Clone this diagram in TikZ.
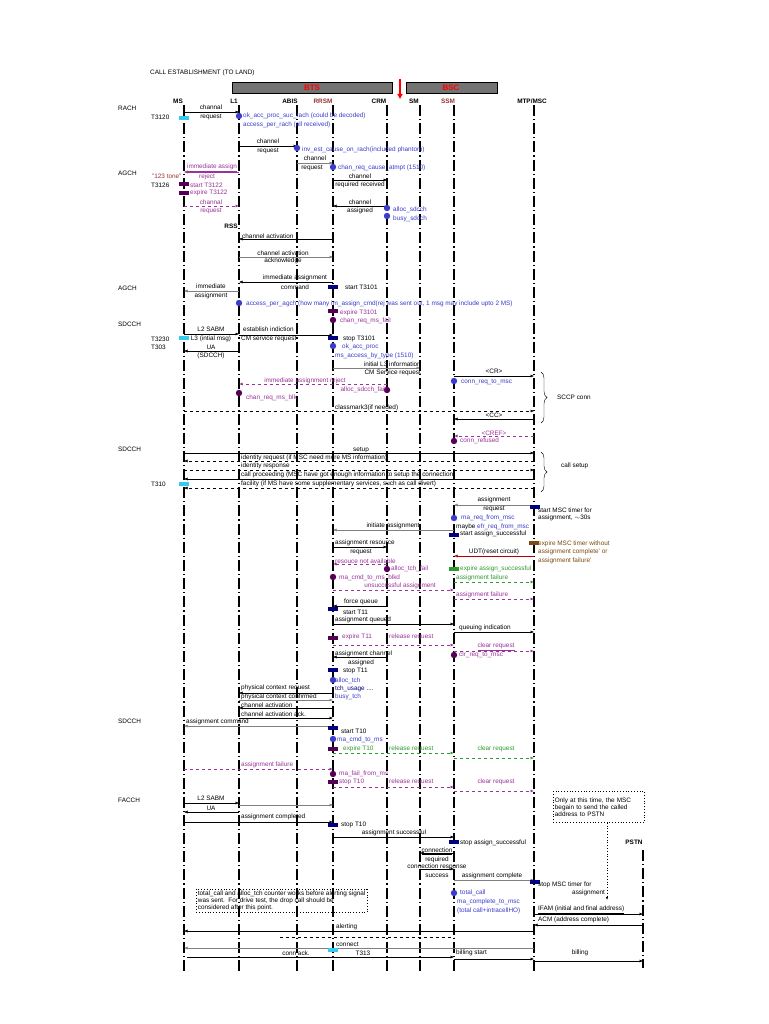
\documentclass[tikz,border=0pt]{standalone}
\usepackage{fontspec}
\setmainfont{Liberation Sans}
\usetikzlibrary{decorations.pathreplacing,arrows.meta}
\definecolor{cb}{HTML}{3B3BCC}
\definecolor{cp}{HTML}{993399}
\definecolor{cdr}{HTML}{993333}
\definecolor{cg}{HTML}{2E9B2E}
\definecolor{cbr}{HTML}{7A4A10}
\definecolor{cdb}{HTML}{000080}
\definecolor{cdp}{HTML}{550055}
\definecolor{ccy}{HTML}{33CCEE}
\tikzset{
 life/.style={line width=1.3pt,dash pattern=on 11pt off 3pt on 1.2pt off 3pt},
 msg/.style={-{Latex[length=3.5pt,width=3pt]},line width=0.5pt},
 gmsg/.style={msg,draw=gray},
 dmsg/.style={msg,dashed},
 pmsg/.style={msg,dashed,draw=cp,line width=0.7pt},
 grm/.style={msg,dashed,draw=cg,line width=0.7pt},
 lbl/.style={font=\fontsize{6.4}{7}\selectfont,inner sep=0pt,anchor=west},
 clbl/.style={lbl,anchor=center},
 hdr/.style={font=\fontsize{6.4}{7}\selectfont\bfseries,inner sep=0pt},
 note/.style={draw,dotted,line width=0.8pt}
}
\newcommand\ar[4][msg]{\draw[#1] (#2,#4) -- (#3,#4);}
\newcommand\tx[4][]{\node[lbl,#1] at (#2,#3) {#4};}
\newcommand\cx[4][]{\node[clbl,#1] at (#2,#3) {#4};}
\newcommand\dt[3][cb]{\fill[#1] (#2,#3) circle (3.2);}
\newcommand\tm[3][cdb]{\fill[#1] (#2-5,#3-2) rectangle (#2+5,#3+2);}
\begin{document}
\begin{tikzpicture}[x=1pt,y=-1pt]
\useasboundingbox[fill=white] (0,0) rectangle (768,1024);
% lifelines
\foreach \x in {184,239,297,333,387,420,454,534}{\draw[life] (\x,105) -- (\x,973);}
\draw[life] (643,850) -- (643,968);
% header
\tx{150}{73}{CALL ESTABLISHMENT (TO LAND)}
\draw[fill=gray!90!black] (232,82) rectangle (392,93);
\draw[fill=gray!90!black] (406,82) rectangle (497,93);
\node[font=\fontsize{8}{9}\selectfont\bfseries,text=red] at (312,87.5) {BTS};
\node[font=\fontsize{8}{9}\selectfont\bfseries,text=red] at (451,87.5) {BSC};
\draw[red,line width=1.5pt,-{Triangle[length=5pt,width=5pt]}] (400,79) -- (400,99);
\node[hdr] at (178,101) {MS};
\node[hdr] at (234,101) {L1};
\node[hdr] at (290,101) {ABIS};
\node[hdr,text=cdr] at (323,101) {RRSM};
\node[hdr] at (379,101) {CRM};
\node[hdr] at (414,101) {SM};
\node[hdr,text=cdr] at (448,101) {SSM};
\node[hdr] at (532,101) {MTP/MSC};
\node[hdr] at (634,842) {PSTN};
% left labels
\tx{118}{108}{RACH}\tx{151}{117}{T3120}
\tx{118}{173}{AGCH}\tx[text=cdr]{152}{176}{"123 tone"}\tx{151}{185}{T3126}
\tx{118}{288}{AGCH}\tx{118}{324}{SDCCH}\tx{151}{339}{T3230}\tx{151}{347}{T303}
\tx{118}{449}{SDCCH}\tx{151}{484}{T310}\tx{118}{721}{SDCCH}\tx{118}{800}{FACCH}
% RACH
\ar{184}{239}{112}\cx{211}{107}{channal}\cx{211}{117}{request}
\fill[ccy] (179,116) rectangle (189,120);
\dt{239}{116}\tx[text=cb]{243}{116}{ok\_acc\_proc\_suc\_rach (could be decoded)}
\tx[text=cb]{243}{125}{access\_per\_rach (all received)}
\ar{239}{297}{146}\cx{268}{141}{channel}\cx{268}{151}{request}
\dt{297}{148}\tx[text=cb]{302}{150}{inv\_est\_cause\_on\_rach(included phantom)}
\ar[gmsg]{297}{333}{163}\cx{315}{158}{channel}\cx{312}{168}{request}
\dt{333}{167}\tx[text=cb]{338}{168}{chan\_req\_cause\_atmpt (1510)}
% AGCH reject
\ar[msg,draw=cp]{239}{184}{172}\cx[text=cp]{212}{168}{\underline{immediate assign}}\cx[text=cp]{207}{177}{reject}
\ar{333}{387}{180}\cx{360}{176}{channel}\cx{360}{185}{required received}
\tm[cdp]{184}{184}\tx[text=cp]{190}{185}{start T3122}
\tm[cdp]{184}{193}\tx[text=cp]{190}{193}{expire T3122}
\ar[pmsg]{184}{239}{206}\cx[text=cp]{211}{202}{channal}\cx[text=cp]{211}{211}{request}
\ar{387}{333}{206}\cx{360}{202}{channel}\cx{360}{211}{assigned}
\dt{387}{208}\tx[text=cb]{393}{210}{alloc\_sdcch}
\dt{387}{216}\tx[text=cb]{393}{219}{busy\_sdcch}
% RSS
\node[hdr] at (231,226) {RSS};
\ar{333}{239}{239}\tx{242}{236}{channel activation}
\ar[gmsg]{239}{333}{257}\cx{283}{253}{channel activation}\cx{283}{261}{acknowledge}
\ar{333}{239}{282}\cx{295}{278}{immediate assignment}\cx{295}{287}{command}
\tm{333}{287}\tx{345}{287}{start T3101}
\ar[gmsg]{239}{184}{291}\cx{211}{286}{immediate}\cx{211}{296}{assignment}
\dt{239}{303}\tx[text=cb]{246}{304}{access\_per\_agch (how many im\_assign\_cmd(rej was sent out, 1 msg may include upto 2 MS)}
\tm[cdp]{333}{311}\tx[text=cp]{340}{313}{expire T3101}
\dt[cdp]{333}{320}\tx[text=cp]{340}{321}{chan\_req\_ms\_fail}
% SDCCH
\ar{184}{239}{334}\cx{211}{329}{L2 SABM}
\ar{239}{333}{335}\tx{243}{329}{establish indiction}
\fill[ccy] (179,336) rectangle (189,340);
\cx{211}{339}{L3 (intial msg)}\tx{241}{339}{CM service request}
\tm{333}{338}\tx{343}{339}{stop T3101}
\cx{211}{347}{UA}\ar{239}{184}{351}\cx{211}{356}{(SDCCH)}
\dt{333}{346}\tx[text=cb]{342}{347}{ok\_acc\_proc}
\tx[text=cb]{335}{356}{ms\_access\_by\_type (1510)}
\ar[gmsg]{333}{420}{368}\node[lbl,anchor=east] at (421,364) {initial L3 information};\node[lbl,anchor=east] at (421,373) {CM Service request};
\ar{454}{534}{376}\cx{494}{371}{<CR>}
\dt{454}{381}\tx[text=cb]{461}{382}{conn\_req\_to\_msc}
\ar[pmsg]{387}{239}{384}\cx[text=cp]{305}{381}{immediate assignment reject}
\dt[cdp]{387}{390}\node[lbl,anchor=east,text=cp] at (386,390) {alloc\_sdcch\_fail};
\dt[cdp]{239}{393}\tx[text=cp]{246}{398}{chan\_req\_ms\_blk}
\ar[dmsg]{184}{534}{411}\tx{335}{408}{classmark3(if needed)}
\ar{534}{454}{419}\cx{494}{415}{<CC>}
\draw[decorate,decoration={brace,amplitude=6pt}] (541,372) -- (541,423);
\tx{557}{397}{SCCP conn}
\ar[pmsg]{534}{454}{436}\cx[text=cp]{494}{433}{<CREF>}
\dt[cdp]{454}{441}\tx[text=cp]{460}{441}{conn\_refused}
% call setup
\ar{184}{534}{453}\cx{361}{450}{setup}
\ar[dmsg]{534}{184}{461}\tx{241}{458}{identity request (if MSC need more MS information)}
\ar[dmsg]{184}{534}{470}\tx{241}{466}{identity response}
\ar{534}{184}{479}\tx{241}{475}{call proceeding (MSC have got enough information to setup the connection)}
\ar[dmsg]{534}{184}{488}\tx{241}{484}{facility (if MS have some supplementary services, such as call divert)}
\fill[ccy] (179,482) rectangle (189,486);
\draw[decorate,decoration={brace,amplitude=6pt}] (541,452) -- (541,492);
\tx{561}{466}{call setup}
% assignment
\ar[gmsg]{534}{454}{505}\cx{494}{500}{assignment}\cx{494}{509}{request}
\tm{535}{507}\tx{538}{510}{start MSC timer for}\tx{538}{518}{assignment, $\sim$30s}
\dt{454}{518}\tx[text=cb]{461}{518}{ma\_req\_from\_msc}
\tx{456}{527}{maybe \textcolor{cb}{efr\_req\_from\_msc}}
\ar[gmsg]{454}{333}{530}\cx{393}{526}{initiate assignment}
\tm{454}{535}\tx{460}{534}{start assign\_successful}
\tm[cbr]{534}{543}\tx[text=cbr]{538}{544}{expire MSC timer without}
\tx[text=cbr]{538}{552}{assignment complete' or}\tx[text=cbr]{538}{561}{assignment failure'}
\ar{333}{387}{547}\tx{335}{543}{assignment resource}\cx{361}{552}{request}
\ar[msg,draw=red!70!black,line width=0.4pt]{534}{454}{556}\cx{494}{552}{UDT(reset circuit)}
\ar[pmsg]{387}{333}{564}\tx[text=cp]{335}{561}{resouce not available}
\dt[cdp]{387}{569}\tx[text=cp]{391}{569}{alloc\_tch\_fail}
\tm[cg]{454}{569}\tx[text=cg]{460}{569}{expire assign\_successful}
\dt[cdp]{333}{577}\tx[text=cp]{339}{578}{ma\_cmd\_to\_ms\_blkd}
\ar[grm]{454}{534}{582}\tx[text=cg]{456}{578}{assignment failure}
\ar[pmsg]{333}{454}{590}\cx[text=cp]{400}{586}{unsuccessful assignment}
\ar[pmsg]{454}{534}{599}\tx[text=cp]{456}{595}{assignment failure}
\ar{387}{333}{606}\cx{361}{602}{force queue}
\tm{333}{609}\tx{343}{612}{start T11}
\ar{333}{454}{624}\tx{335}{620}{assignment queued}
\ar{454}{534}{632}\tx{459}{628}{queuing indication}
\tm[cdp]{333}{638}\tx[text=cp]{342}{637}{expire T11}\tx[text=cp]{389}{637}{release request}
\ar[pmsg]{333}{454}{645}
\ar[pmsg]{454}{534}{651}\cx[text=cp]{496}{647}{\underline{clear request}}
\dt[cdp]{454}{655}\tx[text=cp]{459}{655}{clr\_req\_to\_msc}
\ar{387}{333}{657}\tx{335}{654}{assignment channel}\cx{361}{663}{assigned}
\tm{333}{670}\tx{343}{671}{stop T11}
\dt{333}{680}\tx[text=cb]{335}{681}{alloc\_tch}
\tx[text=cdb]{335}{689}{tch\_usage ....}\tx[text=cb]{335}{697}{busy\_tch}
\ar{333}{239}{693}\tx{241}{688}{physical context request}
\ar[gmsg]{239}{333}{700}\tx{241}{697}{physical context confirmed}
\ar{333}{239}{708}\tx{241}{705}{channel activation}
\ar{239}{333}{718}\tx{241}{714}{channel activation ack.}
\ar[gmsg]{333}{184}{726}\tx{186}{722}{assignment command}
\tm{333}{728}\tx{341}{731}{start T10}
\dt{333}{739}\tx[text=cb]{337}{740}{ma\_cmd\_to\_ms}
\tm[cdp]{333}{749}\tx[text=cg]{343}{749}{expire T10}\tx[text=cg]{389}{749}{release request}
\ar[grm]{333}{454}{753}\ar[grm]{454}{534}{758}\cx[text=cg]{496}{749}{clear request}
\ar[pmsg]{184}{333}{769}\tx[text=cp]{241}{765}{assignment failure}
\dt[cdp]{333}{774}\tx[text=cp]{339}{774}{ma\_fail\_from\_ms}
\tm[cdp]{333}{782}\tx[text=cp]{339}{782}{stop T10}\tx[text=cp]{389}{782}{release request}
\ar[pmsg]{333}{454}{787}\ar[pmsg]{454}{534}{791}\cx[text=cp]{496}{782}{clear request}
% FACCH
\ar{184}{239}{803}\cx{211}{798}{L2 SABM}
\ar[gmsg]{239}{333}{805}
\ar{239}{184}{812}\cx{211}{808}{UA}
\ar{184}{333}{822}\tx{241}{817}{assignment completed}
\tm{333}{825}\tx{341}{825}{stop T10}
\ar{333}{454}{837}\cx{394}{833}{assignment successful}
\tm{454}{842}\tx{460}{843}{stop assign\_successful}
\ar{454}{420}{853}\cx{437}{851}{\underline{connection}}\cx{437}{860}{required}
\ar{420}{454}{869}\cx{437}{867}{connection response}\cx{437}{876}{success}
\ar[gmsg]{454}{534}{880}\cx{492}{876}{assignment complete}
\tm{535}{882}\tx{538}{885}{stop MSC timer for}\tx{572}{893}{assignment}
\node[note,lbl,align=left,anchor=north west,inner sep=1.5pt] at (196,889) {total\_call and alloc\_tch counter works before alerting signal\\was sent.\ \ For drive test, the drop call should be\\considered after this point.};
\dt{454}{893}\tx[text=cb]{460}{893}{total\_call}\tx[text=cb]{457}{902}{ma\_complete\_to\_msc}\tx[text=cb]{457}{911}{(total call+intracellHO)}
\node[note,lbl,align=left,anchor=north west,inner sep=1.5pt,text width=88pt,minimum height=31pt] (nb) at (553,791) {Only at this time, the MSC\\begain to send the called\\address to PSTN};
\coordinate (nt) at (607,900);
\draw[dotted,line width=0.8pt,-{Latex[length=3pt,width=2.5pt]}] (nb.south -| nt) -- (nt);
\ar{534}{643}{914}\tx{538}{910}{\underline{IFAM (initial and final address)}}
\ar{643}{534}{925}\tx{538}{920}{ACM (address complete)}
\ar{534}{184}{931}\tx{336}{927}{alerting}
\draw[dashed,line width=0.7pt] (280,937) -- (454,937);
\ar[gmsg]{534}{184}{948}\tx{336}{944}{connect}
\fill[ccy] (328,948) rectangle (338,952);
\ar{187}{454}{957}\cx{296}{953}{conn ack.}\cx{363}{953}{T313}
\ar{454}{534}{959}\tx{456}{953}{billing start}
\ar{534}{643}{961}\cx{580}{953}{billing}
\end{tikzpicture}
\end{document}
